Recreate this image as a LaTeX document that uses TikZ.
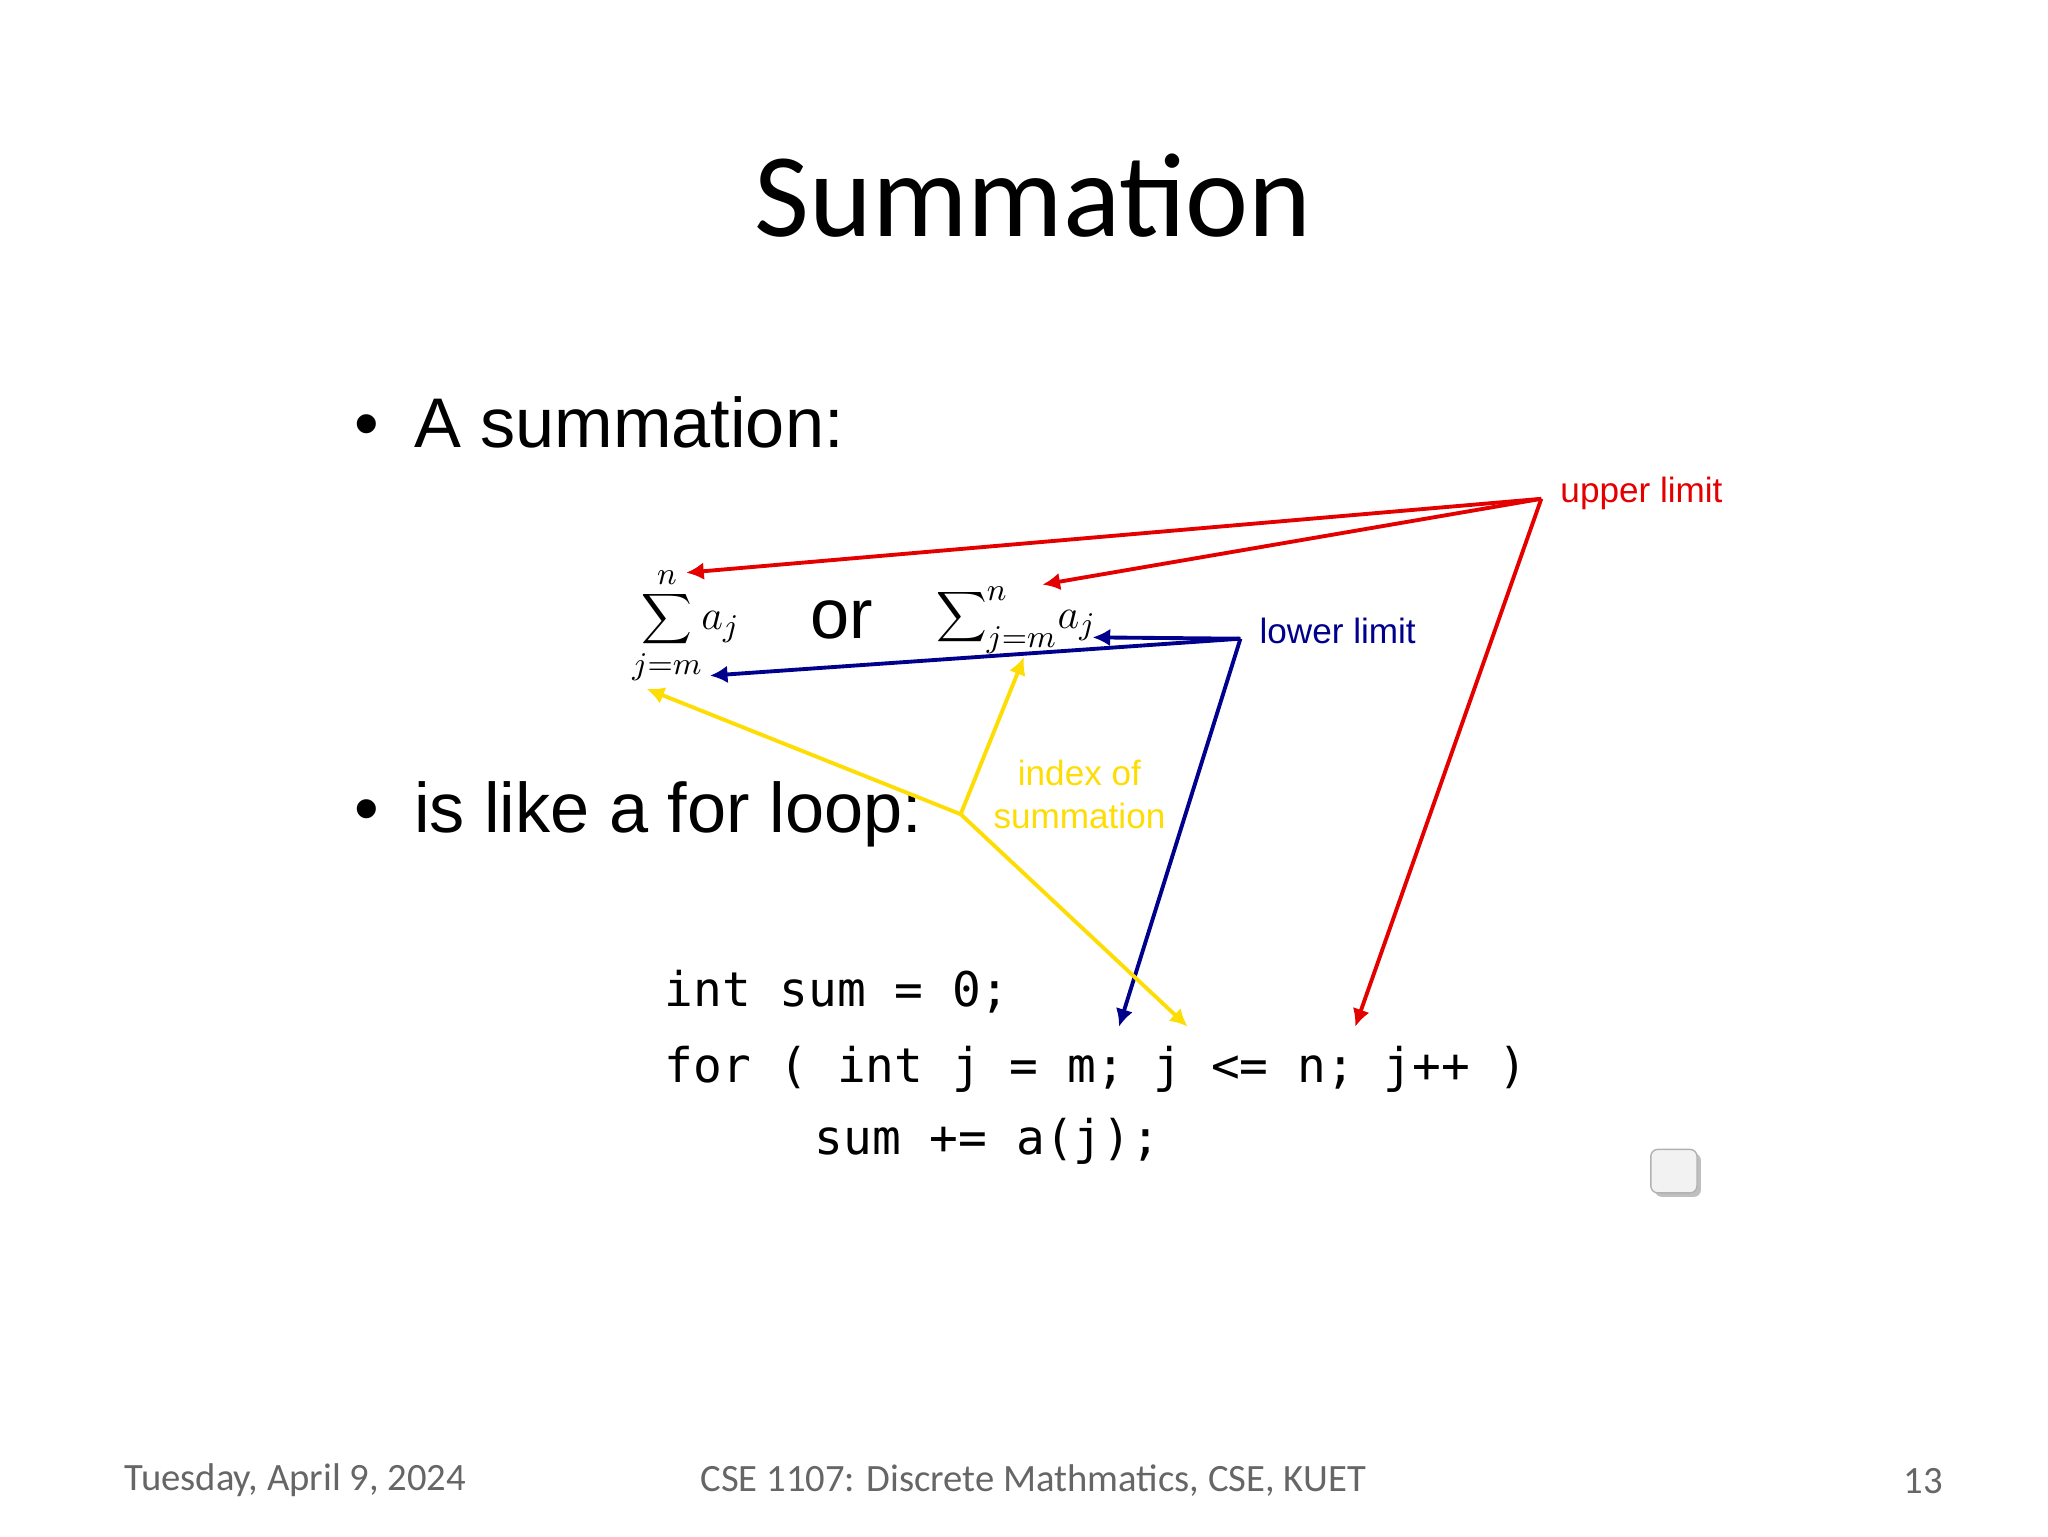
\documentclass[tikz,border=0pt]{standalone}
\usepackage{fontspec}
\setmainfont{Liberation Sans}
\newfontfamily\calib{Carlito}
\newfontfamily\monof{DejaVu Sans Mono}
\begin{document}
\begin{tikzpicture}[x=0.013196cm,y=-0.013196cm,
  lbl/.style={inner sep=0,font=\fontsize{10}{12}\selectfont},
  redc/.style={draw=red!90!black,line width=1.1pt,-{Latex[length=5pt,width=5pt]}},
  bluec/.style={draw=blue!55!black,line width=1.1pt,-{Latex[length=5pt,width=5pt]}},
  yelc/.style={draw=yellow!80!orange,line width=1.1pt,-{Latex[length=5pt,width=5pt]}},
  foot/.style={font=\calib\fontsize{11}{13}\selectfont,text=black!60,inner sep=0},
  bul/.style={font=\fontsize{20}{24}\selectfont,inner sep=0,anchor=west},
  code/.style={font=\monof\fontsize{13.6}{16}\selectfont,inner sep=0,anchor=base west}]
\usetikzlibrary{arrows.meta}
\useasboundingbox (0,0) rectangle (1552,1164);
\node[font=\calib\fontsize{34}{40}\selectfont,inner sep=0] (title) at (783,148) {Summation};
\node[bul] (b1) at (268,320) {\textbullet\hspace{0.5em}A summation:};
\node[bul] (b2) at (268,617) {\textbullet\hspace{0.5em}is like a for loop:};
\node[inner sep=0,font=\fontsize{13}{16}\selectfont] (s1) at (520,474) {$\displaystyle\sum_{j=m}^{n}\! a_j$};
\node[inner sep=0,font=\fontsize{20}{24}\selectfont] (or) at (638,470) {or};
\node[inner sep=0,font=\fontsize{13}{16}\selectfont] (s2) at (770,470) {$\displaystyle\sum\nolimits_{j=m}^{n}\! a_j$};
\node[lbl,text=red!90!black,anchor=west] (ul) at (1182,374) {upper limit};
\node[lbl,text=blue!55!black,anchor=west] (ll) at (954,478) {lower limit};
\node[lbl,text=yellow!80!orange,align=center] (ix) at (818,602) {index of\\summation};
\coordinate (rU) at (1168,378);
\coordinate (bL) at (940,484);
\coordinate (yI) at (728,617);
\coordinate (r1) at (520,434);
\coordinate (r2) at (790,443);
\coordinate (r3) at (1027,778);
\coordinate (bl1) at (828,483);
\coordinate (bl2) at (538,512);
\coordinate (bl3) at (848,778);
\coordinate (y1) at (490,522);
\coordinate (y2) at (776,498);
\coordinate (y3) at (900,778);
\draw[redc] (rU) -- (r1);
\draw[redc] (rU) -- (r2);
\draw[redc] (rU) -- (r3);
\draw[bluec] (bL) -- (bl1);
\draw[bluec] (bL) -- (bl2);
\draw[bluec] (bL) -- (bl3);
\draw[yelc] (yI) -- (y1);
\draw[yelc] (yI) -- (y2);
\draw[yelc] (yI) -- (y3);
\node[code] (c1) at (503,763) {int sum = 0;};
\node[code] (c2) at (503,820) {for ( int j = m; j <= n; j++ )};
\node[code] (c3) at (617,875) {sum += a(j);};
\fill[black!25,rounded corners=2pt] (1254,874) rectangle (1289,907);
\draw[black!30,fill=black!5,rounded corners=2pt] (1251,871) rectangle (1286,904);
\node[foot,anchor=west] (f1) at (94,1122) {Tuesday, April 9, 2024};
\node[foot] (f2) at (783,1122) {CSE 1107: Discrete Mathmatics, CSE, KUET};
\node[foot,anchor=east] (f3) at (1473,1122) {13};
\end{tikzpicture}
\end{document}
